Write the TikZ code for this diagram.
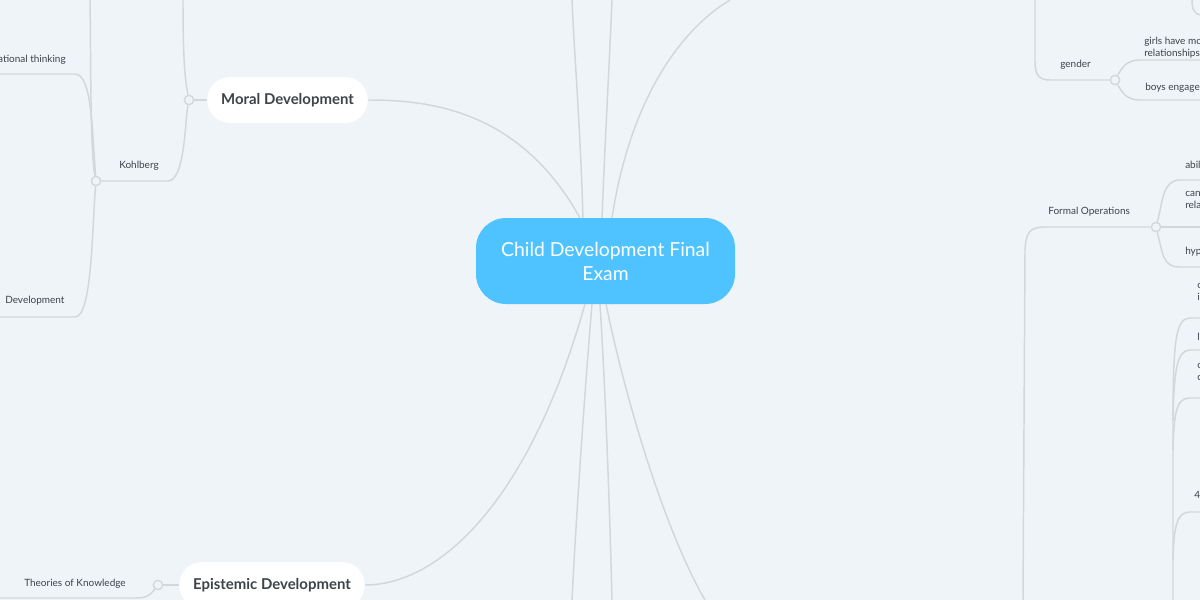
\documentclass[tikz,border=0pt]{standalone}
\usepackage{fontspec}
\setmainfont{Lato}
\definecolor{bg}{HTML}{EFF4F8}
\definecolor{ln}{HTML}{D3D7DB}
\definecolor{ctr}{HTML}{4FC3FF}
\definecolor{tx}{HTML}{3C4349}
\tikzset{
 conn/.style={draw=ln,line width=1.1pt},
 pill/.style={fill=white,rounded corners=23*0.75pt,minimum height=46*0.75pt,font=\fontsize{11.2}{13}\selectfont\bfseries,text=tx,inner xsep=14*0.75pt},
 leaf/.style={font=\fontsize{7.5}{9}\selectfont,text=tx,anchor=west,inner sep=0pt,align=left},
 dot/.style={circle,draw=ln,fill=bg,line width=1pt,minimum size=7pt,inner sep=0pt},
}
\begin{document}
\begin{tikzpicture}[x=0.75pt,y=-0.75pt]
\useasboundingbox (0,0) rectangle (1200,600);
\clip (0,0) rectangle (1200,600);
\fill[bg] (0,0) rectangle (1200,600);
% center
\node[fill=ctr,rounded corners=30*0.75pt,minimum width=259*0.75pt,minimum height=86*0.75pt,text=white,align=center,font=\fontsize{14.5}{18}\selectfont] (c) at (605.5,261) {Child Development Final\\Exam};
\coordinate (t1) at (572,0); \coordinate (t2) at (612,0); \coordinate (t3) at (730,0);
\coordinate (b1) at (572,600); \coordinate (b2) at (612,600); \coordinate (b3) at (705,600);
\draw[conn] (583,218) .. controls (580,120) and (574,50) .. (t1);
\draw[conn] (602,218) .. controls (606,120) and (610,50) .. (t2);
\draw[conn] (612,218) .. controls (630,100) and (680,30) .. (t3);
\draw[conn] (592,304) .. controls (584,400) and (576,520) .. (b1);
\draw[conn] (600,304) .. controls (606,400) and (610,520) .. (b2);
\draw[conn] (606,304) .. controls (630,420) and (670,540) .. (b3);
% moral
\node[pill] (m) at (287.5,100) {Moral Development};
\draw[conn] (580,218) .. controls (520,110) and (430,100) .. (m.east);
\node[dot] (md) at (189,100) {};
\draw[conn] (md) -- (m.west);
\coordinate (mt) at (183,0);
\draw[conn] (md) .. controls (185,80) and (183,60) .. (mt);
\node[dot] (k) at (96,181) {};
\draw[conn] (md) .. controls (185,120) and (185,181) .. (168,181) -- (k);
\node[leaf] at (119,166) {Kohlberg};
\coordinate (kt) at (90,0);
\draw[conn] (k) .. controls (90,150) and (91,60) .. (kt);
\coordinate (k1) at (0,74);
\draw[conn] (k) .. controls (92,130) and (92,74) .. (75,74) -- (k1);
\node[leaf,anchor=east] at (66,60) {ational thinking};
\coordinate (k2) at (0,317);
\draw[conn] (k) .. controls (92,230) and (92,317) .. (75,317) -- (k2);
\node[leaf] at (5,301) {Development};
% epistemic
\node[pill] (e) at (272,585) {Epistemic Development};
\draw[conn] (585,304) .. controls (530,500) and (440,585) .. (e.east);
\node[dot] (ed) at (158,585) {};
\draw[conn] (ed) -- (e.west);
\coordinate (e1) at (0,598);
\draw[conn] (ed) .. controls (150,595) and (148,598) .. (135,598) -- (e1);
\node[leaf] at (24,584) {Theories of Knowledge};
% right top
\coordinate (rt) at (1035,0);
\node[dot] (g) at (1115,80) {};
\draw[conn] (rt) -- (1035,62) .. controls (1035,76) and (1040,80) .. (1050,80) -- (g);
\node[leaf] at (1060,65) {gender};
\coordinate (rt2) at (1192,0);
\draw[conn] (rt2) .. controls (1192,10) and (1195,14) .. (1200,15);
\coordinate (g1) at (1200,60); \coordinate (g2) at (1200,100);
\draw[conn] (g) .. controls (1122,68) and (1126,60) .. (1140,60) -- (g1);
\draw[conn] (g) .. controls (1122,92) and (1126,100) .. (1140,100) -- (g2);
\node[leaf] at (1144,48) {girls have mo\\relationships};
\node[leaf] at (1145,88) {boys engage};
% formal operations
\node[dot] (f) at (1156,227) {};
\coordinate (fb) at (1023,600);
\draw[conn] (fb) -- (1025,250) .. controls (1026,232) and (1030,227) .. (1045,227) -- (f);
\node[leaf] at (1048,212) {Formal Operations};
\coordinate (f1) at (1200,180); \coordinate (f2) at (1200,227); \coordinate (f3) at (1200,267);
\draw[conn] (f) .. controls (1163,200) and (1163,180) .. (1180,180) -- (f1);
\draw[conn] (f) -- (f2);
\draw[conn] (f) .. controls (1163,255) and (1163,267) .. (1180,267) -- (f3);
\node[leaf] at (1185,165) {abil};
\node[leaf] at (1185,200) {can\\rela};
\node[leaf] at (1185,252) {hyp};
% lower group
\coordinate (lb) at (1173,600);
\coordinate (l1) at (1200,318); \coordinate (l2) at (1200,350); \coordinate (l3) at (1200,398); \coordinate (l4) at (1200,512);
\draw[conn] (lb) -- (1173,420) .. controls (1173,340) and (1176,318) .. (1190,318) -- (l1);
\draw[conn] (1173,420) .. controls (1174,370) and (1177,350) .. (1190,350) -- (l2);
\draw[conn] (1173,450) .. controls (1174,410) and (1177,398) .. (1190,398) -- (l3);
\draw[conn] (1173,560) .. controls (1174,525) and (1177,512) .. (1190,512) -- (l4);
\node[leaf] at (1197,292) {c\\i};
\node[leaf] at (1197,337) {l};
\node[leaf] at (1197,372) {c\\c};
\node[leaf] at (1194,495) {4};
\end{tikzpicture}
\end{document}
